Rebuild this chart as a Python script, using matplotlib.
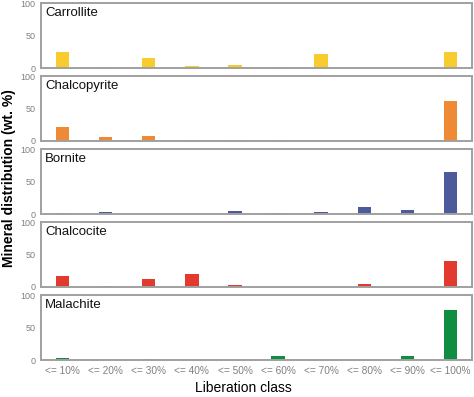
import matplotlib
matplotlib.use('Agg')
import matplotlib.pyplot as plt
import numpy as np

plt.rcParams['font.family'] = ['Liberation Sans', 'DejaVu Sans']

classes = ['<= 10%', '<= 20%', '<= 30%', '<= 40%', '<= 50%',
           '<= 60%', '<= 70%', '<= 80%', '<= 90%', '<= 100%']

minerals = ['Carrollite', 'Chalcopyrite', 'Bornite', 'Chalcocite', 'Malachite']

carrollite = [25, 1.5, 16, 3, 4, 2, 22.5, 0, 0, 25]
chalcopyrite = [22, 6.5, 7.5, 1, 1, 1, 0.5, 0.5, 0, 61.5]
bornite = [1.5, 3.5, 0.5, 0.5, 4, 1, 3, 11, 6.5, 66]
chalcocite = [17, 1, 12.5, 20.5, 2.5, 0.5, 0.5, 4, 0, 41]
malachite = [3, 0, 2, 0, 0, 5.5, 0, 0, 6.5, 77]

series = [carrollite, chalcopyrite, bornite, chalcocite, malachite]
colors = ['#F8CB2E', '#EE8A35', '#4D5A9C', '#E33A2F', '#0F8E42']

W, H = 474, 397
fig = plt.figure(figsize=(W / 100, H / 100), dpi=100)

x = np.arange(len(classes))
for i, (name, vals, col) in enumerate(zip(minerals, series, colors)):
    top = 3 + 73 * i
    bot = 68 + 73 * i
    ax = fig.add_axes([41 / W, 1 - bot / H, 431 / W, (bot - top) / H])
    ax.bar(x, vals, width=0.31, color=col)
    ax.set_xlim(-0.5, 9.5)
    ax.set_ylim(0, 101)
    ax.set_yticks([0, 50, 100])
    ax.tick_params(axis='y', length=0, labelsize=6.5, labelcolor='#808080', pad=4)
    ax.set_xticks(x)
    if i == 4:
        ax.set_xticklabels(classes)
        ax.tick_params(axis='x', length=0, labelsize=7.3, labelcolor='#808080', pad=4)
    else:
        ax.set_xticklabels([])
        ax.tick_params(axis='x', length=0)
    for sp in ax.spines.values():
        sp.set_color('#A0A0A0')
        sp.set_linewidth(1.4)
    ax.text(0.01, 0.84, name, transform=ax.transAxes, fontsize=9.5,
            ha='left', va='center', color='#111111')

fig.text(9 / W, 1 - 178 / H, 'Mineral distribution (wt. %)', rotation=90,
         ha='center', va='center', fontsize=10, fontweight='bold')
fig.text(243 / W, 1 - 388 / H, 'Liberation class', ha='center', va='center',
         fontsize=10)

fig.savefig('out.png', dpi=100)
